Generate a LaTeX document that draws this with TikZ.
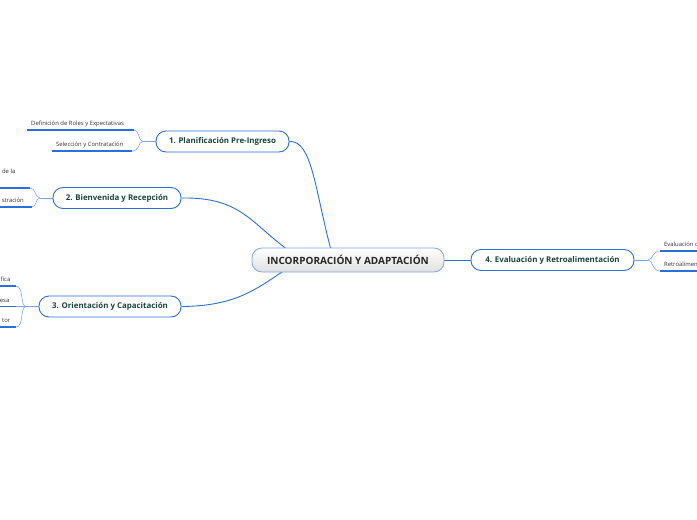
\documentclass[tikz,border=0pt]{standalone}
\usepackage{fontspec}
\setmainfont{Open Sans}
\usetikzlibrary{backgrounds}
\definecolor{mapblue}{HTML}{2A6FDB}
\definecolor{twigblue}{HTML}{7AA6EE}
\definecolor{topictext}{HTML}{17453A}
\definecolor{leaftext}{HTML}{333333}
\begin{document}
\begin{tikzpicture}[x=1pt, y=-1pt,
  central/.style={rounded corners=10pt, draw=twigblue, line width=0.8pt, top color=white, bottom color=black!12, minimum height=24pt, inner sep=0pt, text=black!85, font=\fontsize{10}{12}\selectfont\bfseries},
  topic/.style={rounded corners=10pt, draw=mapblue, line width=0.9pt, fill=white, minimum height=21pt, inner sep=0pt, text=topictext, font=\fontsize{7.9}{9}\selectfont\bfseries},
  leaf/.style={inner sep=0pt, text=leaftext, font=\fontsize{5.9}{7}\selectfont},
  bar/.style={mapblue, line width=1.4pt},
  twig/.style={twigblue, line width=0.6pt},
  limb/.style={mapblue, line width=0.9pt}]

\useasboundingbox (0,0) rectangle (697,520);

\node[central, minimum width=192pt] (hub) at (348,260) {INCORPORACIÓN Y ADAPTACIÓN};

\node[topic, minimum width=133pt] (plan) at (222.5,141.5) {1. Planificación Pre-Ingreso};
\node[topic, minimum width=128pt] (bien) at (117,198) {2. Bienvenida y Recepción};
\node[topic, minimum width=142pt] (orie) at (110,306.5) {3. Orientación y Capacitación};
\node[topic, minimum width=163pt] (eval) at (552.5,260) {4. Evaluación y Retroalimentación};

\begin{scope}[on background layer]
% main branches
\coordinate (hub1) at (331,250);
\coordinate (hub2) at (288,250);
\coordinate (hub3) at (285,270);
\draw[limb] (plan.east) .. controls (312,140) and (315,190) .. (hub1);
\draw[limb] (bien.east) .. controls (240,197) and (250,222) .. (hub2);
\draw[limb] (orie.east) .. controls (235,306) and (255,290) .. (hub3);
\draw[limb] (hub.east) -- (eval.west);

% leaves of 1
\coordinate (j1) at (143,141.5);
\coordinate (b1a) at (27,130);
\coordinate (e1a) at (134,130);
\coordinate (b1b) at (52,151);
\coordinate (e1b) at (132,151);
\draw[bar] (b1a) -- (e1a);
\draw[bar] (b1b) -- (e1b);
\draw[twig] (e1a) .. controls (140,130) and (138,141.5) .. (j1);
\draw[twig] (e1b) .. controls (140,151) and (138,141.5) .. (j1);
\draw[twig] (j1) -- (plan.west);

% leaves of 2
\coordinate (j2) at (40,198);
\coordinate (b2a) at (0,188);
\coordinate (e2a) at (30,188);
\coordinate (b2b) at (0,207);
\coordinate (e2b) at (32,207);
\draw[bar] (b2a) -- (e2a);
\draw[bar] (b2b) -- (e2b);
\draw[twig] (e2a) .. controls (36,188) and (35,198) .. (j2);
\draw[twig] (e2b) .. controls (37,207) and (35,198) .. (j2);
\draw[twig] (j2) -- (bien.west);

% leaves of 3
\coordinate (j3) at (26,306.5);
\coordinate (b3a) at (0,286);
\coordinate (e3a) at (16,286);
\coordinate (b3b) at (0,306.5);
\coordinate (e3b) at (16,306.5);
\coordinate (b3c) at (0,327);
\coordinate (e3c) at (16,327);
\draw[bar] (b3a) -- (e3a);
\draw[bar] (b3b) -- (e3b);
\draw[bar] (b3c) -- (e3c);
\draw[twig] (e3a) .. controls (24,286) and (20,306.5) .. (j3);
\draw[twig] (e3b) -- (j3);
\draw[twig] (e3c) .. controls (24,327) and (20,306.5) .. (j3);
\draw[twig] (j3) -- (orie.west);

% leaves of 4
\coordinate (j4) at (648,260);
\coordinate (b4a) at (660,251);
\coordinate (e4a) at (697,251);
\coordinate (b4b) at (660,271);
\coordinate (e4b) at (697,271);
\draw[bar] (b4a) -- (e4a);
\draw[bar] (b4b) -- (e4b);
\draw[twig] (eval.east) -- (j4);
\draw[twig] (j4) .. controls (653,260) and (652,251) .. (b4a);
\draw[twig] (j4) .. controls (653,260) and (652,271) .. (b4b);
\end{scope}

\node[leaf, anchor=south west] (t1a) at (31,127.5) {Definición de Roles y Expectativas};
\node[leaf, anchor=south west] (t1b) at (56,148.5) {Selección y Contratación};
\node[leaf, anchor=south east] (t2a) at (15.5,174) {l de la};
\node[leaf, anchor=south east] (t2b) at (24,203) {stración};
\node[leaf, anchor=south east] (t3a) at (10.5,282) {fica};
\node[leaf, anchor=south east] (t3b) at (9.5,302.5) {esa};
\node[leaf, anchor=south east] (t3c) at (10.5,323) {tor};
\node[leaf, anchor=south west] (t4a) at (664,246.5) {Evaluación d};
\node[leaf, anchor=south west] (t4b) at (664,266.5) {Retroalimen};

\end{tikzpicture}
\end{document}
